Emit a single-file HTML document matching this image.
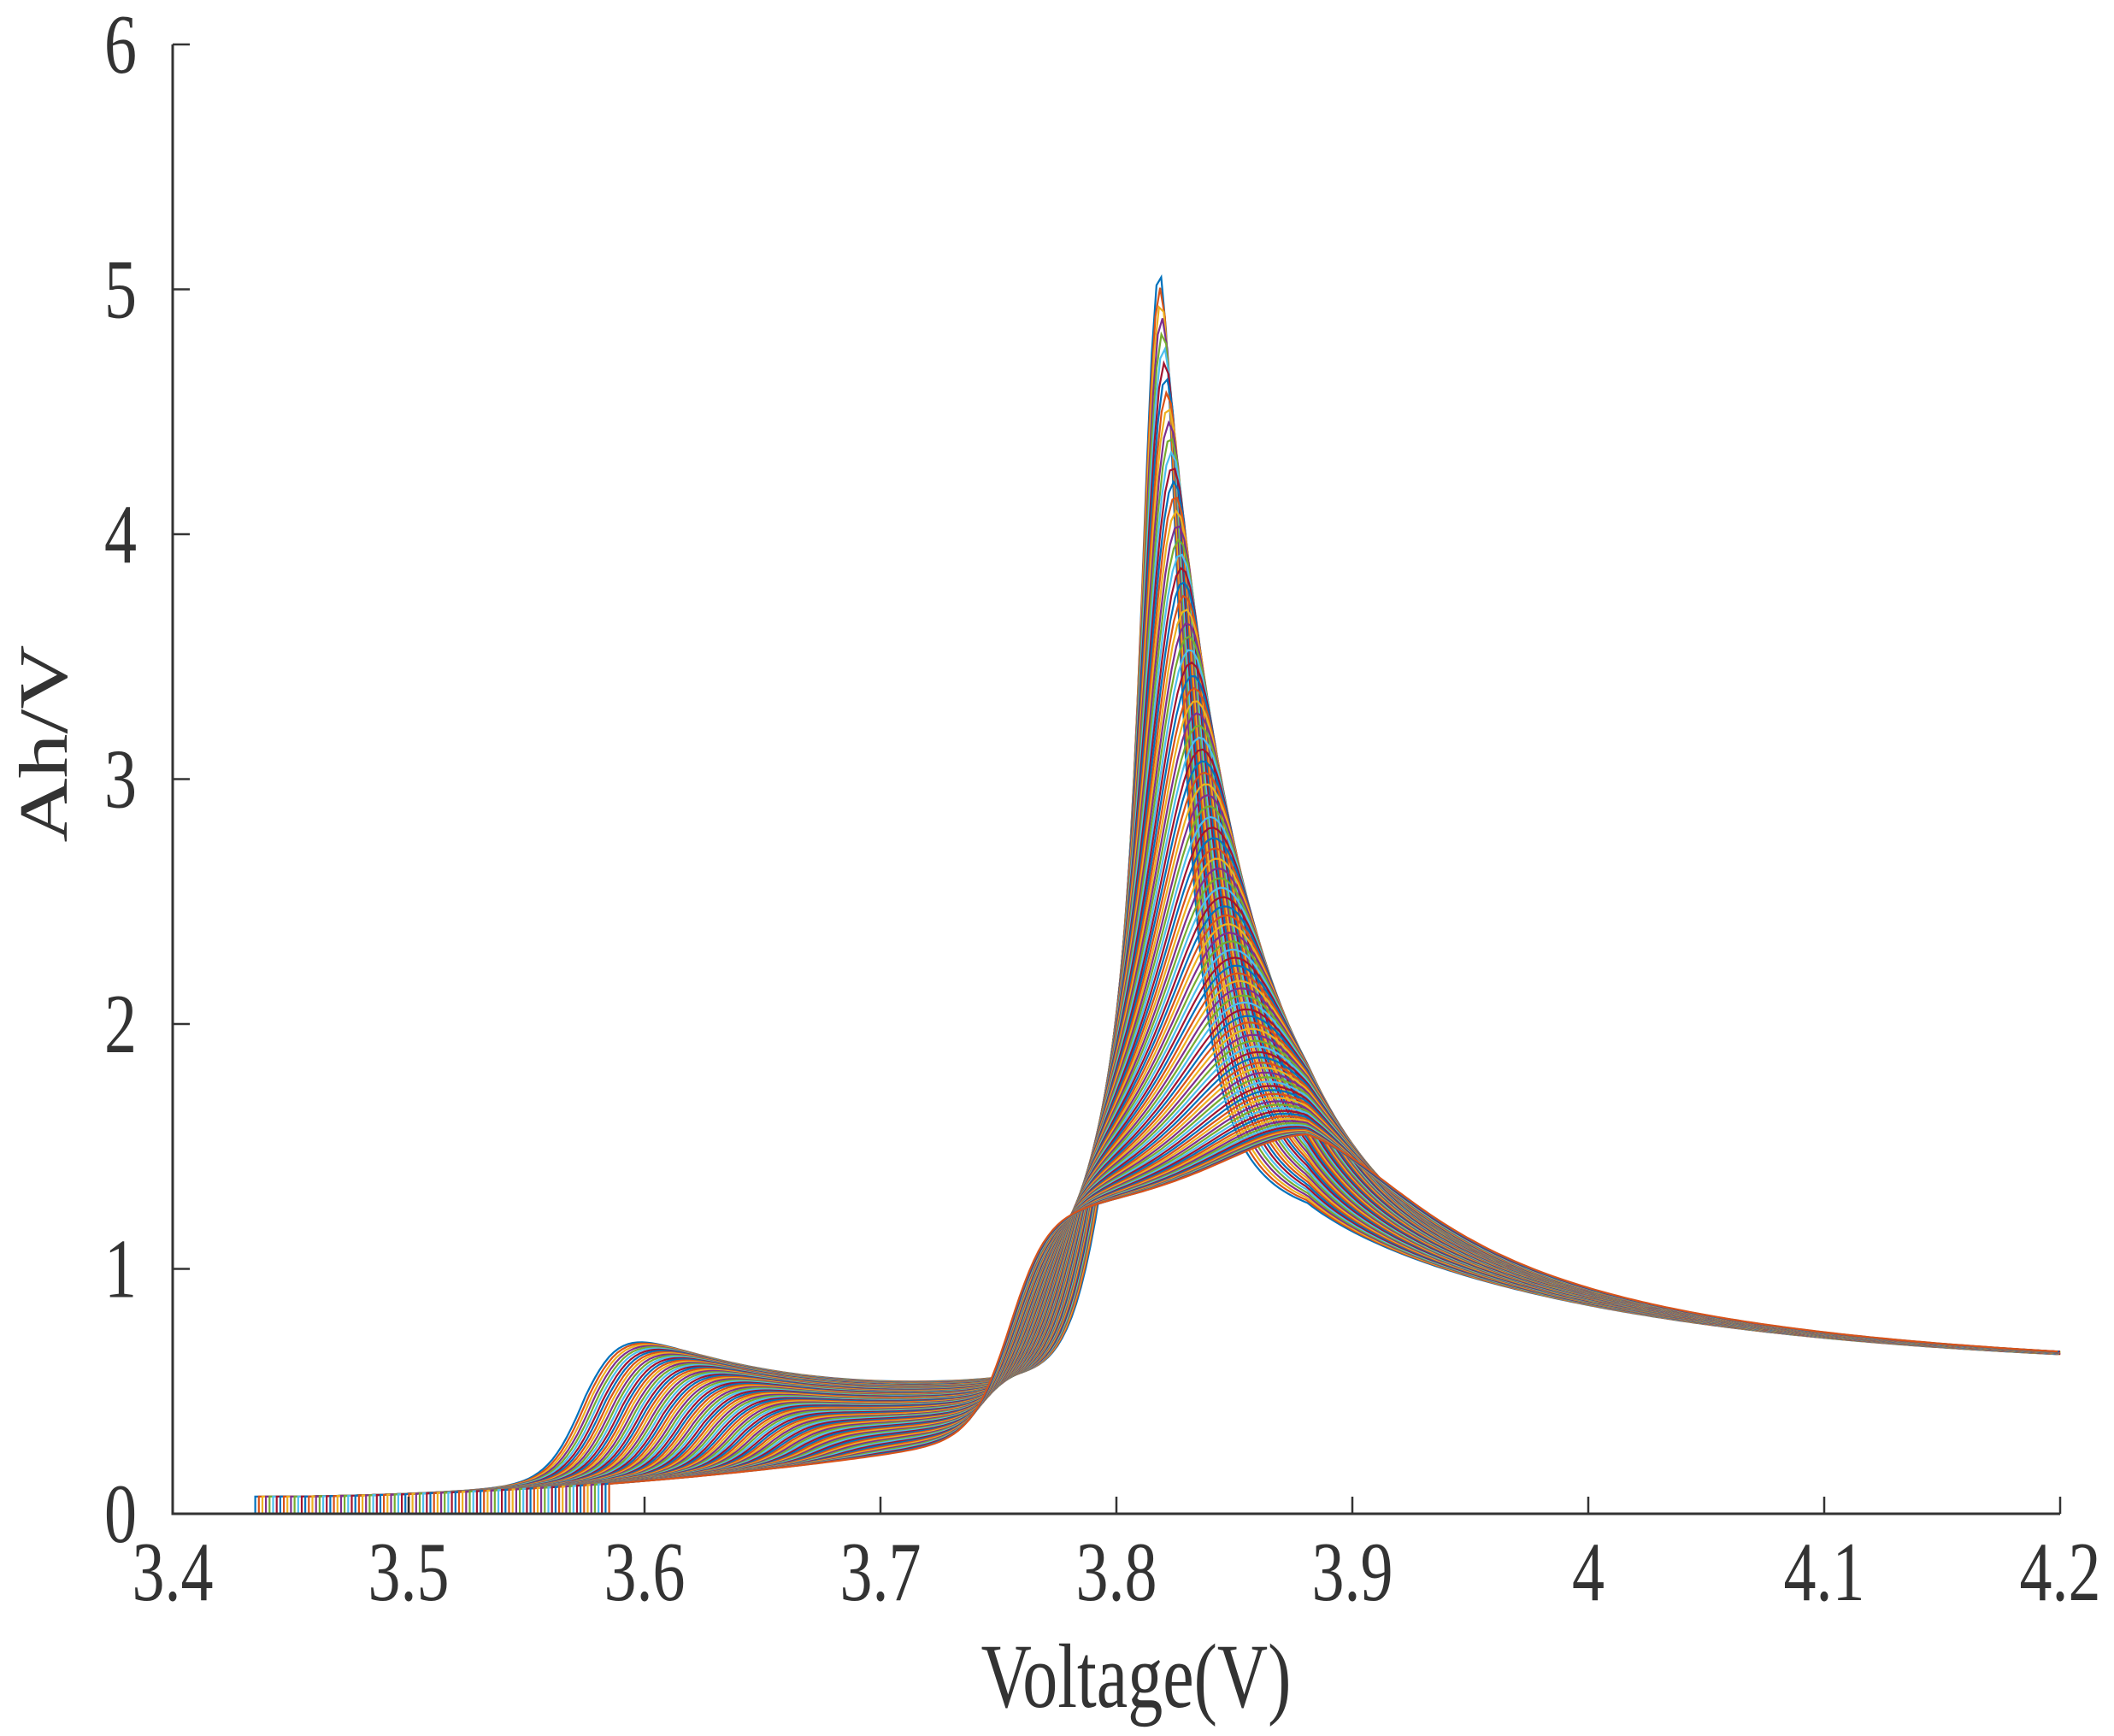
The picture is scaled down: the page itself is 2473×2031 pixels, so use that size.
<!DOCTYPE html>
<html><head><meta charset="utf-8"><style>
html,body{margin:0;padding:0;background:#fff;}
svg{display:block;}
text{font-family:"Liberation Serif",serif;fill:#333;}
</style></head><body>
<svg id="s" width="2473" height="2031" viewBox="0 0 2473 2031" xmlns="http://www.w3.org/2000/svg">
<g id="curves" fill="none" stroke-width="2.2"></g>
<g stroke="#333" stroke-width="3" fill="none">
<path d="M202 52 V1771 H2410"/>
</g>
<g id="ticks" stroke="#333" stroke-width="2.5"></g>
<g id="labels" font-size="76"></g>
<text transform="translate(1329,1997) scale(1,1.3)" font-size="82" text-anchor="middle">Voltage(V)</text>
<text transform="translate(78,870) rotate(-90) scale(1.3,1)" font-size="80" text-anchor="middle">Ah/V</text>
</svg>
<script>
const X0=202,X1=2410,Y0=1771,Y6=52;
const sx=v=>X0+(v-3.4)/0.8*(X1-X0);
const sy=y=>Y0-(y/6)*(Y0-Y6);
const ns="http://www.w3.org/2000/svg";
const tk=document.getElementById('ticks'),lb=document.getElementById('labels');
function el(p,tag,a,txt){const e=document.createElementNS(ns,tag);for(const k in a)e.setAttribute(k,a[k]);if(txt!==undefined)e.textContent=txt;p.appendChild(e);return e;}
const xt=['3.4','3.5','3.6','3.7','3.8','3.9','4','4.1','4.2'];
xt.forEach((t,i)=>{const x=sx(3.4+i*0.1);el(tk,'line',{x1:x,x2:x,y1:Y0,y2:Y0-20});el(lb,'text',{transform:'translate('+x+',1872) scale(1,1.3)','text-anchor':'middle'},t);});
for(let i=0;i<=6;i++){const y=sy(i);el(tk,'line',{x1:X0,x2:X0+20,y1:y,y2:y});el(lb,'text',{transform:'translate(160,'+(y+33)+') scale(1,1.3)','text-anchor':'end'},String(i));}
const cols=['#0072BD','#D95319','#EDB120','#7E2F8E','#77AC30','#4DBEEE','#A2142F'];
const sig=z=>1/(1+Math.exp(-z));
const N=100,g=document.getElementById('curves');
for(let k=0;k<N;k++){
 const t=k/(N-1);
 const s=3.435+0.15*t, r=3.575+0.12*t, H=0.7*Math.pow(1-t,1.1);
 const m=3.79-0.035*t;
 const A=0.4+3.65*Math.pow(1-t,2), w=0.011+0.05*t, p=3.818+0.065*Math.pow(t,1.2);
 let pts=[sx(s).toFixed(1)+','+sy(0).toFixed(1)];
 for(let v=s;v<=4.2001;v+=0.002){
  const base=0.07+0.3*Math.pow(Math.max(0,v-3.44)/0.3,2)*(1-0.25*t);
  const hump=H*sig((v-r)/0.008)*Math.exp(-Math.max(0,v-r)/0.12);
  const left=base+hump;
  const right=Math.min(0.58+0.7*Math.exp(-(v-3.85)/0.15),1.15)+A*w*w/((v-p)*(v-p)+w*w);
  const sg=sig((v-m)/0.008);
  const f=(1-sg)*left+sg*right;
  pts.push(sx(v).toFixed(1)+','+sy(f).toFixed(1));
 }
 el(g,'polyline',{points:pts.join(' '),stroke:cols[k%7]});
}
</script>
</body></html>
